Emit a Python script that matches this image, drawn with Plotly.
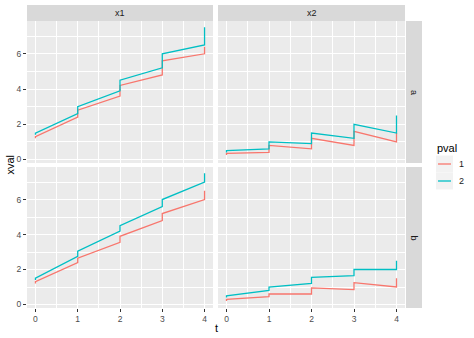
import plotly.graph_objects as go

# ---- data ----
t = [0, 0, 1, 1, 2, 2, 3, 3, 4, 4]
cols = ["x1", "x2"]
rows = ["a", "b"]
pvals = ["1", "2"]
x1_a_p1 = [1.2, 1.3, 2.4, 2.8, 3.6, 4.2, 4.8, 5.6, 6.0, 6.4]
x1_a_p2 = [1.4, 1.5, 2.6, 3.0, 3.9, 4.5, 5.2, 6.0, 6.5, 7.5]
x1_b_p1 = [1.2, 1.3, 2.4, 2.65, 3.55, 3.9, 4.8, 5.2, 6.0, 6.5]
x1_b_p2 = [1.4, 1.5, 2.75, 3.05, 4.2, 4.5, 5.6, 6.0, 7.0, 7.5]
x2_a_p1 = [0.25, 0.35, 0.4, 0.8, 0.6, 1.2, 0.8, 1.6, 1.0, 1.5]
x2_a_p2 = [0.4, 0.5, 0.6, 1.0, 0.9, 1.5, 1.2, 2.0, 1.5, 2.5]
x2_b_p1 = [0.2, 0.3, 0.45, 0.6, 0.6, 0.95, 0.85, 1.25, 1.0, 1.5]
x2_b_p2 = [0.4, 0.5, 0.8, 1.0, 1.2, 1.55, 1.65, 2.0, 2.0, 2.5]
x_ticks = [0, 1, 2, 3, 4]
y_ticks = [0, 2, 4, 6]

series = {
    ("x1", "a"): [x1_a_p1, x1_a_p2],
    ("x2", "a"): [x2_a_p1, x2_a_p2],
    ("x1", "b"): [x1_b_p1, x1_b_p2],
    ("x2", "b"): [x2_b_p1, x2_b_p2],
}
colors = ["#F8766D", "#00BFC4"]

W, H = 474, 338
def px(x):
    return x / W
def py(y):
    return 1 - y / H

FAM = "Liberation Sans, Arial, sans-serif"
col_dom = {"x1": [px(27), px(213)], "x2": [px(218), px(405)]}
row_dom = {"a": [py(163), py(21)], "b": [py(308), py(167)]}

fig = go.Figure()
layout = dict(
    width=W, height=H,
    margin=dict(l=0, r=0, t=0, b=0),
    paper_bgcolor="white", plot_bgcolor="#EBEBEB",
    showlegend=False,
    font=dict(family=FAM, color="#1A1A1A"),
)

FONT_TICK = dict(size=8.5, color="#4D4D4D", family=FAM)
shapes = []
annotations = []
idx = 0
for r in rows:
    for c in cols:
        idx += 1
        sfx = "" if idx == 1 else str(idx)
        xa, ya = "x" + sfx, "y" + sfx
        for k, vals in enumerate(series[(c, r)]):
            fig.add_trace(go.Scatter(
                x=t, y=vals, mode="lines", xaxis=xa, yaxis=ya,
                line=dict(color=colors[k], width=1.3), name=pvals[k],
                hoverinfo="skip"))
        bottom = (r == rows[-1])
        left = (c == cols[0])
        layout["xaxis" + sfx] = dict(
            domain=col_dom[c], anchor=ya, range=[-0.2, 4.2],
            tickvals=x_ticks, showticklabels=bottom,
            ticks="outside" if bottom else "", ticklen=3, tickcolor="#333333", tickwidth=1,
            showgrid=True, gridcolor="white", gridwidth=1.1, zeroline=False,
            showline=False, tickfont=FONT_TICK,
            minor=dict(tickvals=[0.5, 1.5, 2.5, 3.5], showgrid=True, gridcolor="white", gridwidth=0.5, ticks=""),
            fixedrange=True,
        )
        layout["yaxis" + sfx] = dict(
            domain=row_dom[r], anchor=xa, range=[-0.2, 7.86],
            tickvals=y_ticks, showticklabels=left,
            ticks="outside" if left else "", ticklen=3, tickcolor="#333333", tickwidth=1,
            showgrid=True, gridcolor="white", gridwidth=1.1, zeroline=False,
            showline=False, tickfont=FONT_TICK,
            minor=dict(tickvals=[1, 3, 5, 7], showgrid=True, gridcolor="white", gridwidth=0.5, ticks=""),
            fixedrange=True,
        )

def note(text, x, y, size, color="#1A1A1A", angle=0, xanchor="center"):
    annotations.append(dict(text=text, xref="paper", yref="paper", x=x, y=y,
                            xanchor=xanchor, yanchor="middle", textangle=angle,
                            showarrow=False, font=dict(size=size, color=color, family=FAM)))

# strips
for c in cols:
    shapes.append(dict(type="rect", xref="paper", yref="paper",
                       x0=col_dom[c][0], x1=col_dom[c][1], y0=py(21), y1=py(5),
                       fillcolor="#D9D9D9", line=dict(width=0), layer="below"))
    note(c, sum(col_dom[c]) / 2, (py(21) + py(5)) / 2, 9)
for r in rows:
    shapes.append(dict(type="rect", xref="paper", yref="paper",
                       x0=px(406), x1=px(422), y0=row_dom[r][0], y1=row_dom[r][1],
                       fillcolor="#D9D9D9", line=dict(width=0), layer="below"))
    note(r, (px(406) + px(422)) / 2, sum(row_dom[r]) / 2, 9, angle=90)

# axis titles
note("t", px(216), py(328), 11, color="#000000")
note("xval", px(9), py(164.5), 11, color="#000000", angle=-90)

# legend (custom)
note("pval", px(435), py(148), 11, color="#000000", xanchor="left")
for k, p in enumerate(pvals):
    yc = 164 + 17 * k
    shapes.append(dict(type="rect", xref="paper", yref="paper",
                       x0=px(436), x1=px(453), y0=py(yc + 8.5), y1=py(yc - 8.5),
                       fillcolor="#F2F2F2", line=dict(width=0)))
    shapes.append(dict(type="line", xref="paper", yref="paper",
                       x0=px(438), x1=px(451), y0=py(yc), y1=py(yc),
                       line=dict(color=colors[k], width=1.3)))
    note(p, px(457), py(yc), 9, xanchor="left")

layout["shapes"] = shapes
layout["annotations"] = annotations
fig.update_layout(**layout)
fig.write_html("out.html")
